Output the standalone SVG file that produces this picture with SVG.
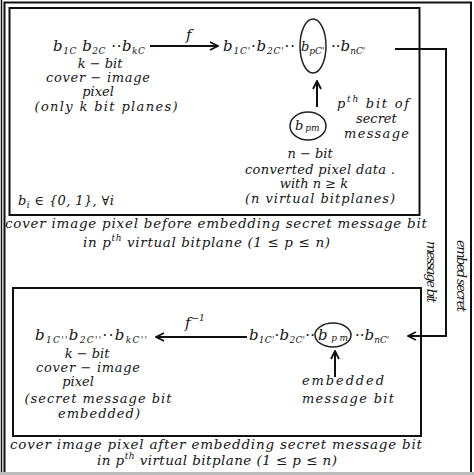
<svg xmlns="http://www.w3.org/2000/svg" width="474" height="475" viewBox="0 0 474 475">
<defs>
<style>
text{font-family:"DejaVu Serif","Liberation Serif",serif;font-style:italic;fill:#141414;font-size:13px}
.f{font-size:15px}
.s{font-size:9px}
.cap{font-size:13.5px}
.c{text-anchor:middle}
.box{fill:none;stroke:#111;stroke-width:2}
.ln{fill:none;stroke:#111;stroke-width:2}
.el{fill:none;stroke:#222;stroke-width:1.5}
</style>
<marker id="ah" viewBox="0 0 10 10" refX="9" refY="5" markerWidth="10" markerHeight="10" markerUnits="userSpaceOnUse" orient="auto">
<path d="M1,1 L9,5 L1,9" fill="none" stroke="#111" stroke-width="1.8"/>
</marker>
</defs>
<rect width="474" height="475" fill="#fff"/>
<g id="frame">
<rect x="4.5" y="2.5" width="466.5" height="475" class="box"/>
<line x1="1.5" y1="0" x2="1.5" y2="475" stroke="#111" stroke-width="1.5"/>
<line x1="0" y1="473.5" x2="474" y2="473.5" stroke="#bbb" stroke-width="3"/>
</g>
<g id="box1">
<rect x="9.5" y="8" width="410" height="207" class="box"/>
<text x="53" y="51" class="f" textLength="92">b<tspan class="s" dy="3">1C</tspan><tspan dy="-3"> b</tspan><tspan class="s" dy="3">2C</tspan><tspan dy="-3"> ··b</tspan><tspan class="s" dy="3">kC</tspan></text>
<text x="100" y="68" class="c">k − bit</text>
<text x="98" y="82" class="c" textLength="104">cover − image</text>
<text x="98" y="96" class="c">pixel</text>
<text x="106" y="111" class="c" textLength="143">(only k bit planes)</text>
<text x="18" y="205" textLength="96">b<tspan class="s" dy="3">i</tspan><tspan dy="-3"> ∈ {0, 1}, ∀i</tspan></text>
<text x="223" y="51" class="f" textLength="72">b<tspan class="s" dy="3">1C'</tspan><tspan dy="-3">·b</tspan><tspan class="s" dy="3">2C'</tspan><tspan dy="-3">··</tspan></text>
<text x="301" y="51" font-size="14">b<tspan class="s" dy="3">pC'</tspan></text>
<text x="331" y="51" class="f">··b<tspan class="s" dy="3">nC'</tspan></text>
<ellipse cx="313" cy="46" rx="13" ry="27" class="el"/>
<ellipse cx="308" cy="126" rx="18" ry="14" class="el"/>
<text x="295" y="130">b<tspan class="s" dx="2" dy="1">pm</tspan></text>
<text x="337" y="108" textLength="72">p<tspan class="s" dy="-6">th</tspan><tspan dy="6"> bit of</tspan></text>
<text x="356" y="123" font-size="7.5">secret</text>
<text x="344" y="138" textLength="65">message</text>
<text x="310" y="158" class="c">n − bit</text>
<text x="320" y="174" class="c" textLength="150">converted pixel data .</text>
<text x="314" y="188" class="c">with n ≥ k</text>
<text x="320" y="203" class="c" textLength="150">(n virtual bitplanes)</text>
</g>
<g id="caption1">
<text x="5" y="228" class="cap" textLength="422">cover image pixel before embedding secret message bit</text>
<text x="83" y="247" class="cap" textLength="247">in p<tspan class="s" dy="-6">th</tspan><tspan dy="6"> virtual bitplane (1 ≤ p ≤ n)</tspan></text>
</g>
<g id="box2">
<rect x="13" y="288" width="408" height="148" class="box"/>
<text x="35" y="340" class="f" textLength="112">b<tspan class="s" dy="3">1C''</tspan><tspan dy="-3">b</tspan><tspan class="s" dy="3">2C''</tspan><tspan dy="-3">··b</tspan><tspan class="s" dy="3">kC''</tspan></text>
<text x="87" y="358" class="c">k − bit</text>
<text x="88" y="372" class="c" textLength="104">cover − image</text>
<text x="78" y="386" class="c">pixel</text>
<text x="98" y="403" class="c" textLength="147">(secret message bit</text>
<text x="99" y="418" class="c" textLength="82">embedded)</text>
<text x="249" y="340" class="f" textLength="66">b<tspan class="s" dy="3">1C'</tspan><tspan dy="-3">·b</tspan><tspan class="s" dy="3">2C'</tspan><tspan dy="-3">··</tspan></text>
<text x="318" y="340" class="f" textLength="30">b<tspan class="s" dx="1" dy="1">pm</tspan></text>
<text x="355" y="340" class="f">··b<tspan class="s" dy="3">nC'</tspan></text>
<ellipse cx="333" cy="335" rx="18" ry="12" class="el"/>
<text x="302" y="385" textLength="82">embedded</text>
<text x="302" y="403" textLength="92">message bit</text>
</g>
<g id="caption2">
<text x="10" y="449" class="cap" textLength="412">cover image pixel after embedding secret message bit</text>
<text x="97" y="465" class="cap" textLength="240">in p<tspan class="s" dy="-6">th</tspan><tspan dy="6"> virtual bitplane (1 ≤ p ≤ n)</tspan></text>
</g>
<g id="connectors">
<line x1="150" y1="46" x2="218" y2="46" class="ln" marker-end="url(#ah)"/>
<text x="186" y="40" class="f">f</text>
<line x1="317" y1="107" x2="317" y2="81" class="ln" marker-end="url(#ah)"/>
<polyline points="395,49 446,49 446,336 408,336" class="ln" marker-end="url(#ah)"/>
<text transform="translate(457,240) rotate(90)" textLength="72">embed secret</text>
<text transform="translate(427,241) rotate(90)" textLength="62">message bit</text>
<line x1="247" y1="337" x2="156" y2="337" class="ln" marker-end="url(#ah)"/>
<text x="185" y="328" class="f">f<tspan class="s" dx="1" dy="-7">−1</tspan></text>
<line x1="335" y1="377" x2="335" y2="351" class="ln" marker-end="url(#ah)"/>
</g>
</svg>
